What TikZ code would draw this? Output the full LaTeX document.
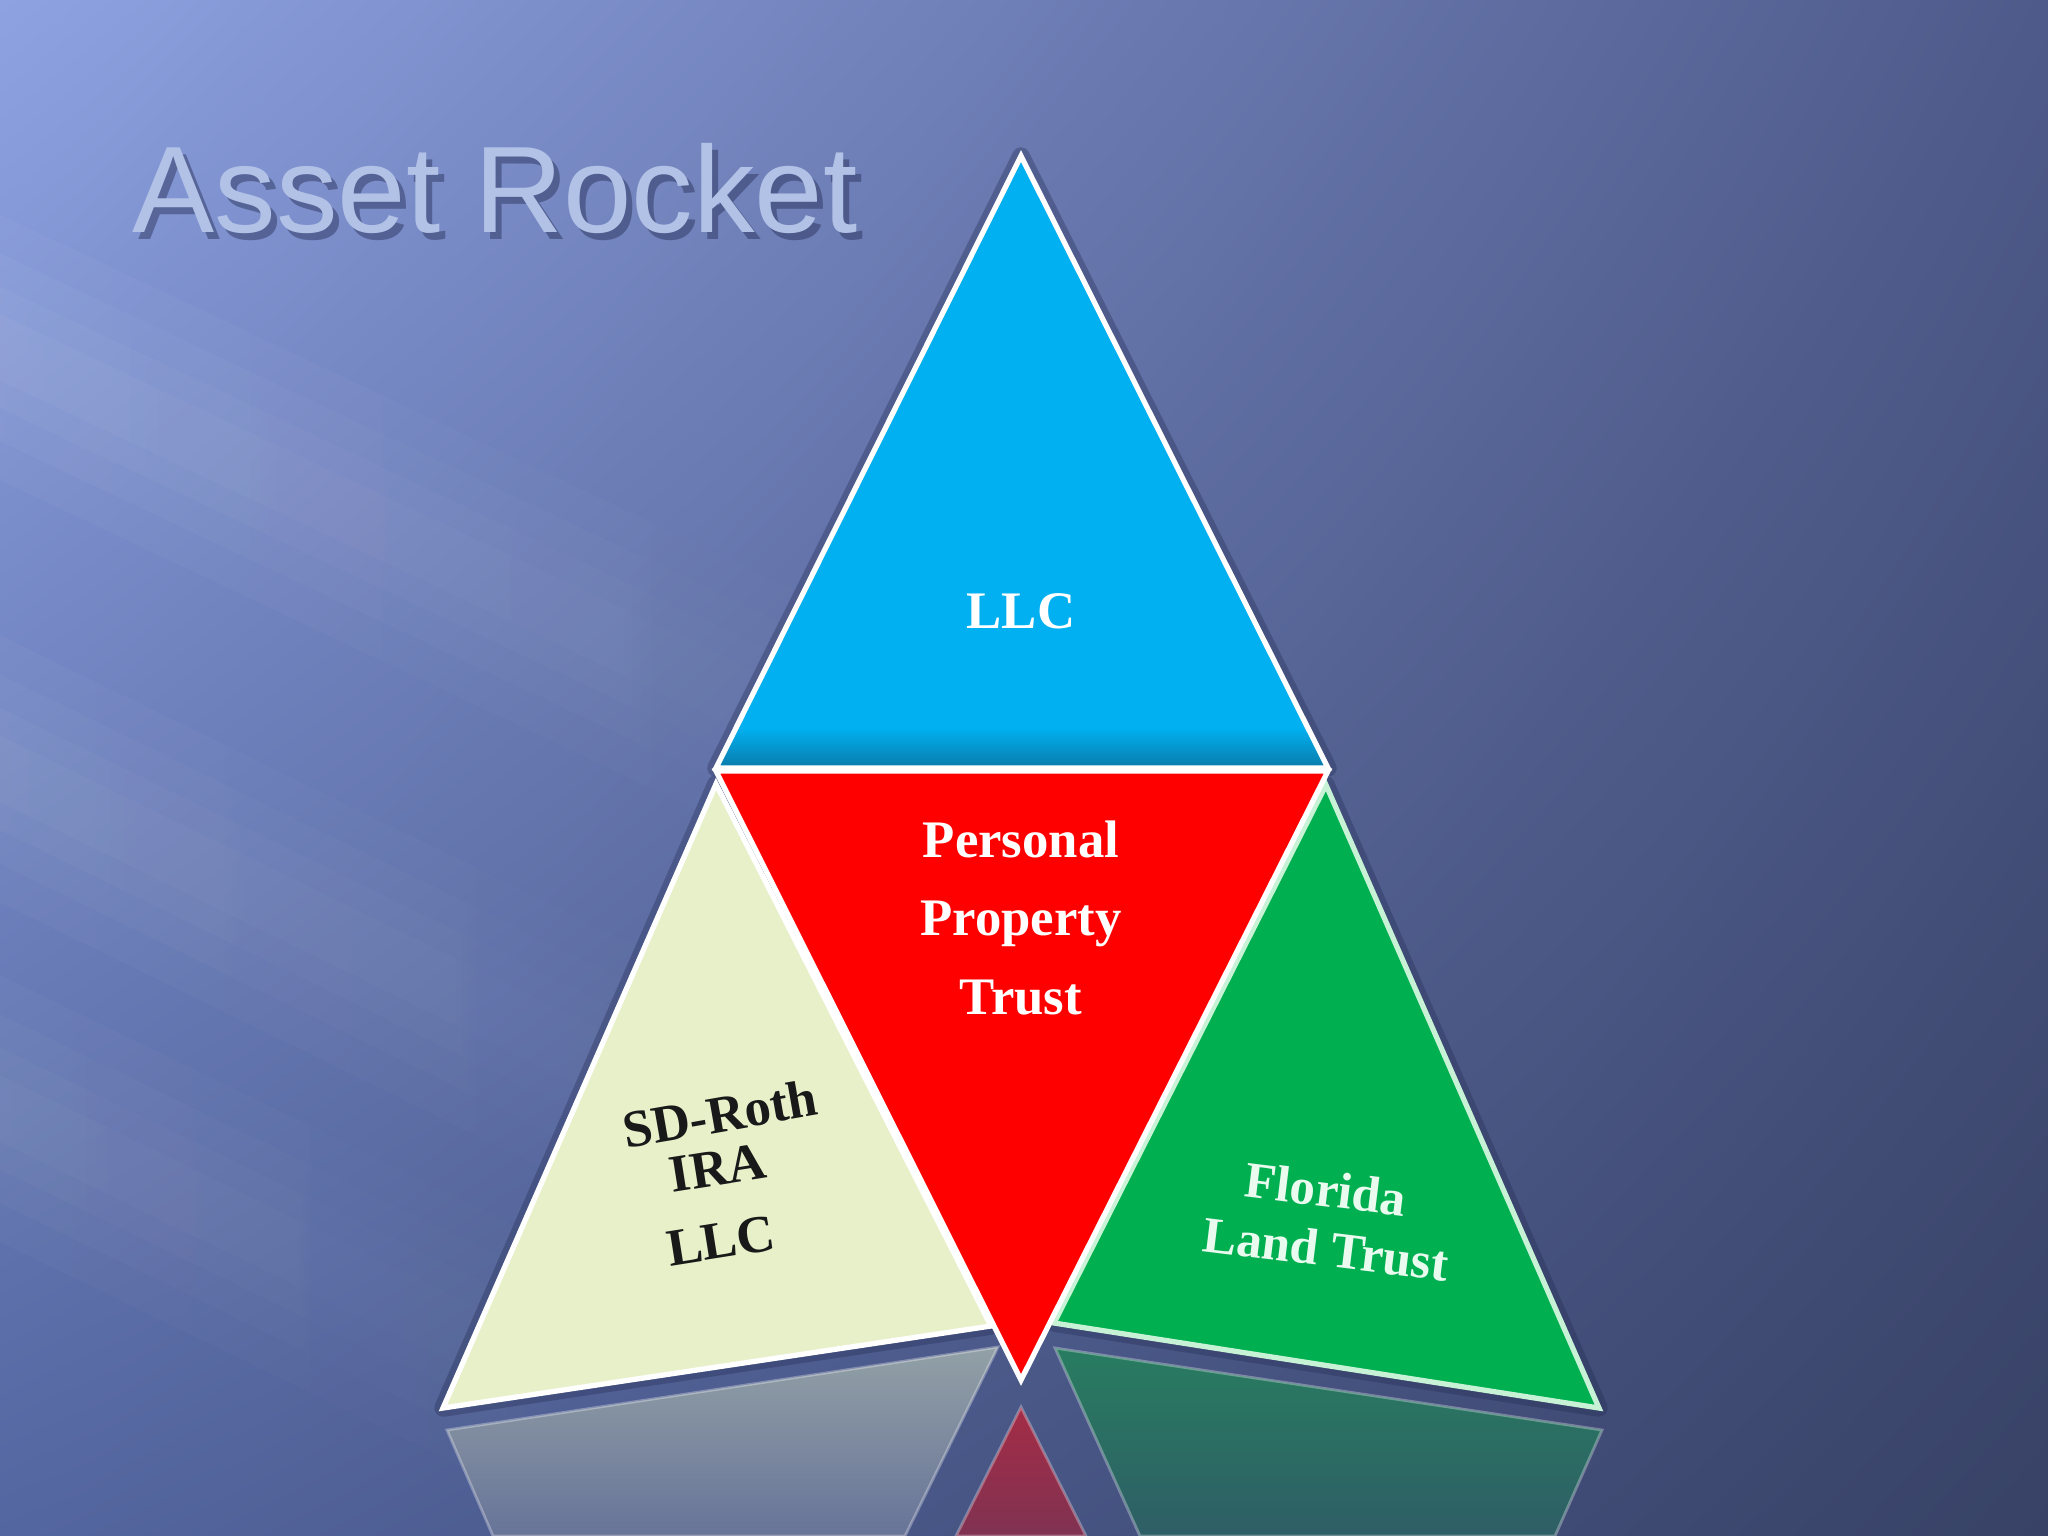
\documentclass[tikz,border=0pt]{standalone}
\usepackage{fontspec}
\setmainfont{Liberation Serif}
\newfontfamily\titlefont{Liberation Sans}
\usetikzlibrary{shadings,fadings}

\definecolor{llcBlue}{HTML}{00B0F0}
\definecolor{llcDark}{HTML}{0A7AA8}
\definecolor{trustRed}{HTML}{FF0000}
\definecolor{rothCream}{HTML}{E8F0CA}
\definecolor{floridaGreen}{HTML}{00B050}
\definecolor{floridaEdge}{HTML}{C8F2D6}
\definecolor{bgUL}{RGB}{142,162,226}
\definecolor{bgUR}{RGB}{78,90,138}
\definecolor{bgLL}{RGB}{84,102,160}
\definecolor{bgLR}{RGB}{56,66,102}
\definecolor{titleBlue}{RGB}{178,194,230}
\definecolor{titleShadow}{RGB}{36,44,84}

\begin{document}
\begin{tikzpicture}[%%
  x=0.01cm,y=-0.01cm,%%
  edgeStyle/.style={draw=white,line width=1.5pt,line join=miter},%%
  glowStyle/.style={draw=titleShadow,line width=5pt,opacity=0.35,line join=round},%%
  reflStyle/.style={draw=white,draw opacity=0.3,line width=0.8pt},%%
  titleStyle/.style={anchor=base,inner sep=0pt,font=\titlefont\fontsize{35}{40}\selectfont},%%
  whiteText/.style={text=white,font=\bfseries\fontsize{15}{22.2}\selectfont,align=center},%%
  darkText/.style={text=black!90,inner sep=0pt,font=\bfseries\fontsize{15}{18}\selectfont},%%
  greenText/.style={text=floridaEdge!40!white,inner sep=0pt,font=\bfseries\fontsize{14.5}{18}\selectfont}%%
]
%%
%% Page frame, in pixels of the slide.
\useasboundingbox (0,0) rectangle (2048,1536);
\clip (0,0) rectangle (2048,1536);
%%
%% The background.
\shade[upper left=bgUL,upper right=bgUR,lower left=bgLL,lower right=bgLR]
  (0,0) rectangle (2048,1536);
%% Light streaks across the background, fading out to the right.
\foreach \w in {240,170,110,60} {
  \draw[white,opacity=0.04,line width=\w*0.01cm,path fading=east] (-100,300) -- (1000,820);
  \draw[white,opacity=0.035,line width=\w*0.01cm,path fading=east] (-100,720) -- (800,1160);
  \draw[white,opacity=0.03,line width=\w*0.01cm,path fading=east] (-100,1060) -- (600,1400);
}
%%
%% The title, with its shadow.
\node[titleStyle,text=titleShadow,opacity=0.45] (titleShade) at (501,239) {Asset Rocket};
\node[titleStyle,text=titleBlue] (title) at (495,232) {Asset Rocket};
%%
%% Reflections below the triangles.
\shade[reflStyle,top color={rgb,255:red,146;green,160;blue,166},bottom color={rgb,255:red,104;green,116;blue,152}]
  (447,1430) -- (998,1347) -- (905,1536) -- (493,1536) -- cycle;
\shade[reflStyle,top color={rgb,255:red,40;green,124;blue,96},bottom color={rgb,255:red,46;green,94;blue,102}]
  (1055,1348) -- (1602,1430) -- (1555,1536) -- (1140,1536) -- cycle;
\shade[reflStyle,top color={rgb,255:red,164;green,44;blue,70},bottom color={rgb,255:red,128;green,50;blue,82}]
  (1021,1407) -- (1086,1536) -- (956,1536) -- cycle;
%%
%% Corners of the four triangles.
\coordinate (llcTop) at (1021,156);
\coordinate (llcLeft) at (716,768);
\coordinate (llcRight) at (1328,768);
\coordinate (rothTop) at (716,784);
\coordinate (rothLeft) at (443,1408);
\coordinate (rothRight) at (991,1326);
\coordinate (landTop) at (1326,785);
\coordinate (landLeft) at (1054,1323);
\coordinate (landRight) at (1599,1408);
\coordinate (trustLeft) at (716,771);
\coordinate (trustRight) at (1328,771);
\coordinate (trustTip) at (1021,1380);
%%
%% The top triangle.
\draw[glowStyle] (llcTop) -- (llcLeft) -- (llcRight) -- cycle;
\fill[llcBlue] (llcTop) -- (llcLeft) -- (llcRight) -- cycle;
\begin{scope}
  \clip (llcTop) -- (llcLeft) -- (llcRight) -- cycle;
  \shade[top color=llcBlue,bottom color=llcDark] (700,728) rectangle (1340,769);
\end{scope}
\draw[edgeStyle] (llcTop) -- (llcLeft) -- (llcRight) -- cycle;
%%
%% The lower left triangle.
\draw[glowStyle] (rothTop) -- (rothLeft) -- (rothRight) -- cycle;
\fill[rothCream] (rothTop) -- (rothLeft) -- (rothRight) -- cycle;
\draw[edgeStyle] (rothTop) -- (rothLeft) -- (rothRight) -- cycle;
%%
%% The lower right triangle.
\draw[glowStyle] (landTop) -- (landLeft) -- (landRight) -- cycle;
\fill[floridaGreen] (landTop) -- (landLeft) -- (landRight) -- cycle;
\draw[edgeStyle,draw=floridaEdge] (landTop) -- (landLeft) -- (landRight) -- cycle;
%%
%% The middle triangle, upside down.
\fill[trustRed] (trustLeft) -- (trustRight) -- (trustTip) -- cycle;
\draw[edgeStyle] (trustLeft) -- (trustRight) -- (trustTip) -- cycle;
%%
%% Labels.
\node[whiteText] (llcLabel) at (1021,611) {LLC};
\node[whiteText] (trustLabel) at (1021,918) {Personal\\Property\\Trust};
\node[darkText,rotate=10] (rothLine1) at (720,1114) {SD-Roth};
\node[darkText,rotate=9] (rothLine2) at (718,1168) {IRA};
\node[darkText,rotate=9] (rothLine3) at (721,1241) {LLC};
\node[greenText,rotate=-7] (landLine1) at (1326,1189) {Florida};
\node[greenText,rotate=-7] (landLine2) at (1326,1249) {Land Trust};
\end{tikzpicture}
\end{document}
